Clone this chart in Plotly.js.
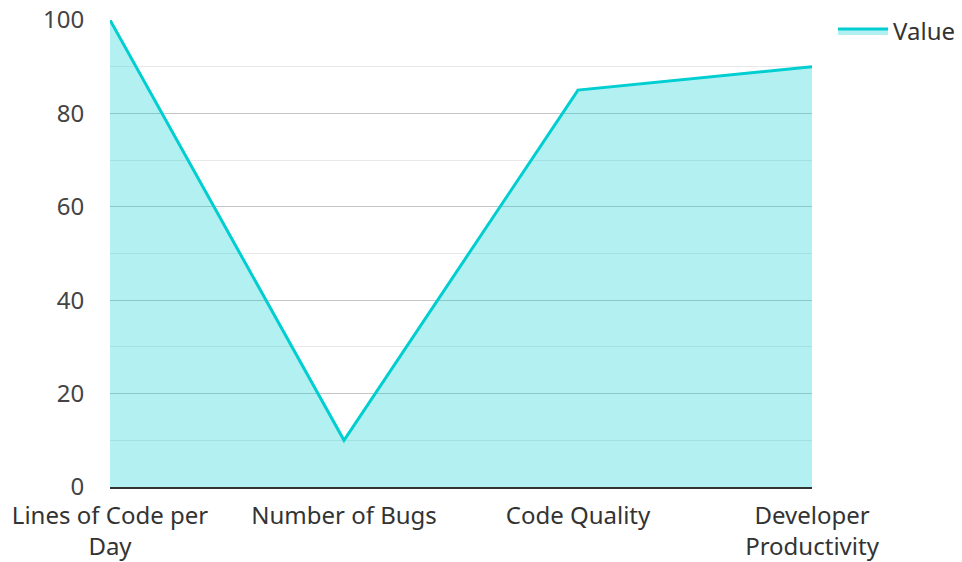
<!DOCTYPE html>
<html><head><meta charset="utf-8">
<script src="https://cdn.plot.ly/plotly-3.0.1.min.js"></script>
<style>body{margin:0;background:#fff}#chart{width:962px;height:562px}</style>
</head><body><div id="chart"></div>
<script>
const categories = ["Lines of Code per<br>Day", "Number of Bugs", "Code Quality", "Developer<br>Productivity"];
const values = [100, 10, 85, 90];
const seriesName = "Value";

const trace = {
  x: categories, y: values, name: seriesName, type: 'scatter', mode: 'lines',
  fill: 'tozeroy', fillcolor: 'rgba(0,206,209,0.3)',
  line: {color: '#00CED1', width: 3}
};
const layout = {
  width: 962, height: 562,
  margin: {l: 110, r: 150, t: 20, b: 75, autoexpand: false},
  paper_bgcolor: '#fff', plot_bgcolor: '#fff',
  font: {family: '"Noto Sans", "Open Sans", sans-serif', size: 24, color: '#333'},
  showlegend: true,
  legend: {x: 1.03, y: 1.024, xanchor: 'left', yanchor: 'top', itemwidth: 50,
    font: {size: 24, color: '#333'}},
  xaxis: {type: 'category', range: [0, 3], showgrid: false, zeroline: false,
    showline: true, linecolor: '#333', linewidth: 2, ticks: '', ticklabelstandoff: 6,
    tickfont: {size: 24, color: '#333'}},
  yaxis: {range: [0, 100], dtick: 20, tick0: 0, showgrid: true, gridcolor: '#c4c4c4', gridwidth: 1,
    zeroline: false, showline: false, ticks: 'outside', ticklen: 20, tickcolor: 'rgba(0,0,0,0)',
    tickfont: {size: 24, color: '#444'},
    minor: {dtick: 10, showgrid: true, gridcolor: '#e8e8e8', gridwidth: 1, ticks: ''}}
};
Plotly.newPlot('chart', [trace], layout, {displayModeBar: false, staticPlot: true});
</script></body></html>
